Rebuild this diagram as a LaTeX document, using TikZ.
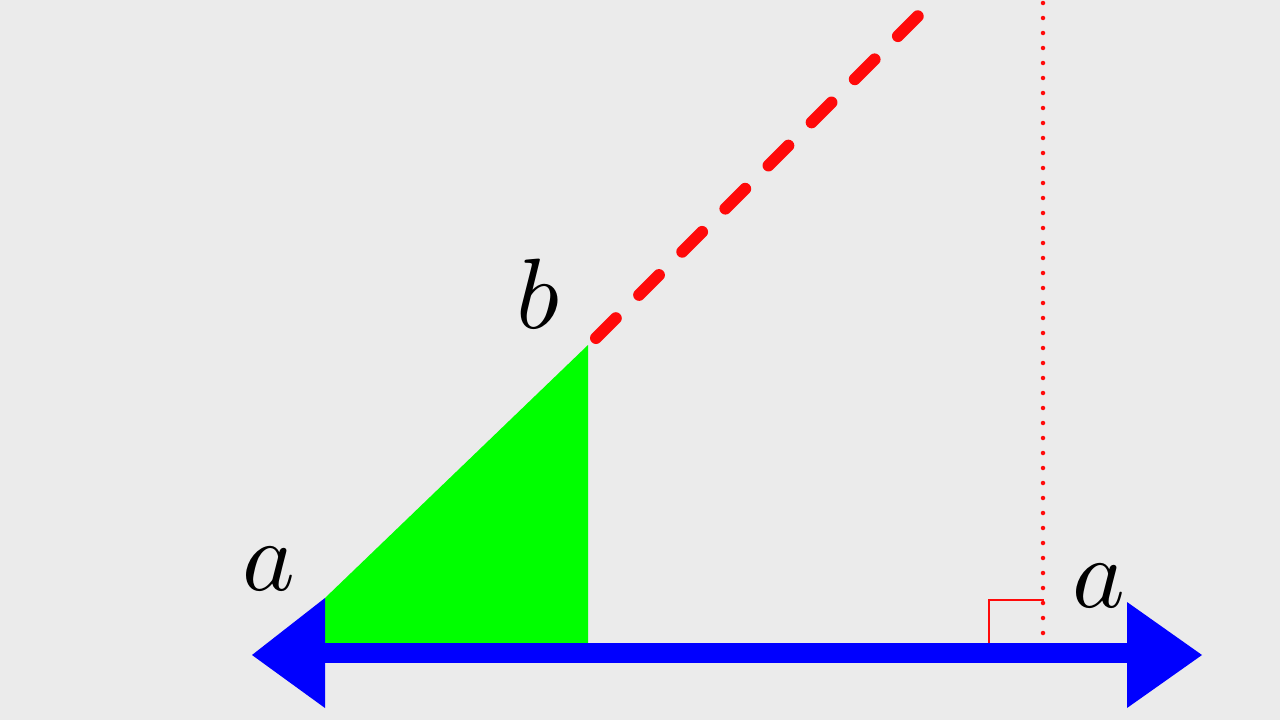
\documentclass[tikz,border=0pt]{standalone}
\definecolor{bg}{HTML}{EBEBEB}
\definecolor{grn}{HTML}{00FF00}
\definecolor{blu}{HTML}{0000FF}
\definecolor{rd}{HTML}{FF0A0A}
\tikzset{
  lbl/.style={anchor=base, inner sep=0pt, scale=10},
  dashray/.style={rd, line width=12pt, line cap=round, dash pattern=on 28pt off 33pt},
  dotline/.style={rd, line width=4.5pt, line cap=round, dash pattern=on 0pt off 15pt},
  rightmark/.style={rd, line width=2pt},
  axis/.style={blu, line width=20pt},
  tip/.style={fill=blu},
}
\begin{document}
\begin{tikzpicture}[x=1pt,y=-1pt]
\fill[bg] (0,0) rectangle (1280,720);
\useasboundingbox (0,0) rectangle (1280,720);
\clip (0,0) rectangle (1280,720);
% coordinates
\coordinate (A) at (325,598);
\coordinate (B) at (588,345);
\coordinate (C) at (588,645);
\coordinate (D) at (325,645);
% green triangle
\fill[grn] (A) -- (B) -- (C) -- (D) -- cycle;
% red dashed ray
\coordinate (R0) at (596,338);
\coordinate (R1) at (1010,-76);
\draw[dashray] (R0) -- (R1);
% dotted vertical
\coordinate (V0) at (1043,3);
\coordinate (V1) at (1043,643);
\draw[dotline] (V0) -- (V1);
% right angle mark
\coordinate (M0) at (989,645);
\coordinate (M1) at (989,600);
\coordinate (M2) at (1044,600);
\draw[rightmark] (M0) -- (M1) -- (M2);
% blue double arrow
\coordinate (L) at (320,653);
\coordinate (Rr) at (1132,653);
\draw[axis] (L) -- (Rr);
\fill[tip] (252,655) -- (325,598) -- (325,708) -- cycle;
\fill[tip] (1202,655) -- (1127,602) -- (1127,708) -- cycle;
% labels
\node[lbl] (la) at (269,590) {$a$};
\node[lbl] (ra) at (1099,607) {$a$};
\node[lbl] (lb) at (538,328) {$b$};
\end{tikzpicture}
\end{document}
